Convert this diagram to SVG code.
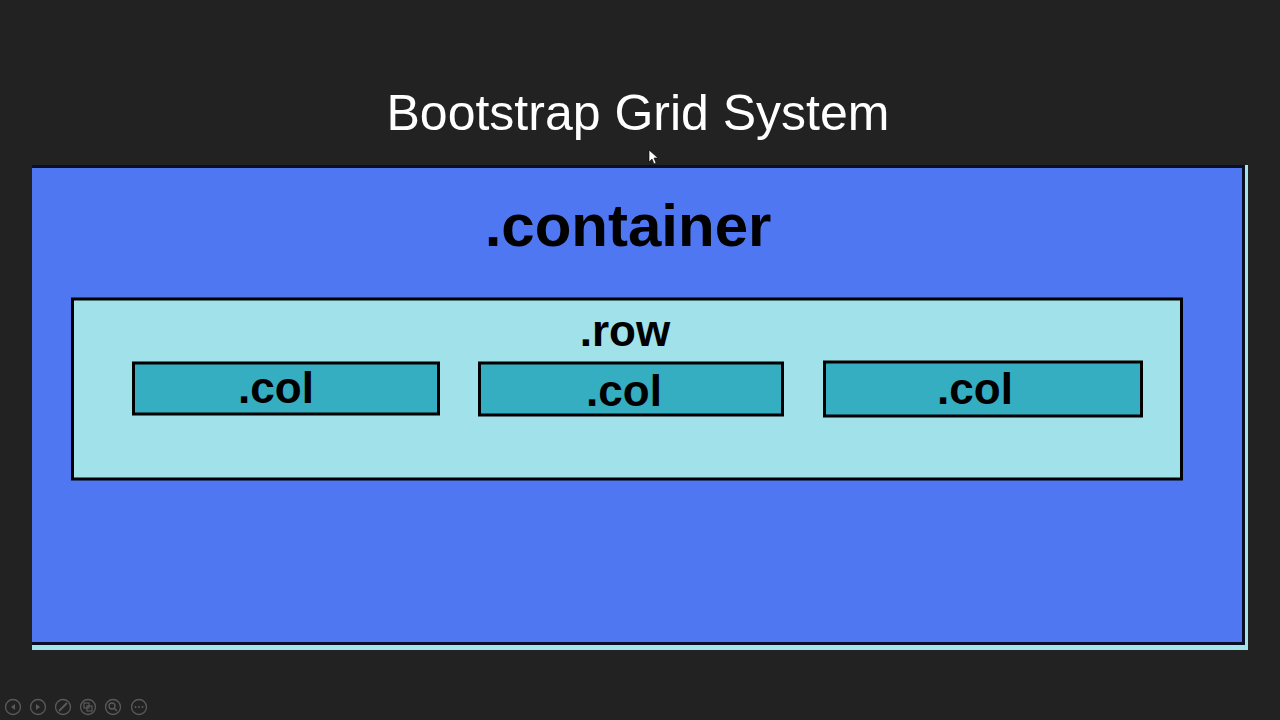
<svg xmlns="http://www.w3.org/2000/svg" width="1280" height="720" viewBox="0 0 1280 720">
<style>
.title{font-family:"Liberation Sans",Arial,sans-serif;font-size:50px;fill:#ffffff}
.lbl{font-family:"Liberation Sans",Arial,sans-serif;font-weight:bold;fill:#000000;text-anchor:middle}
.col rect{fill:#34aec0;stroke:#000;stroke-width:3}
.ic{fill:none;stroke:#5a5a5a;stroke-width:1.3}
</style>
<rect x="0" y="0" width="1280" height="720" fill="#222222"/>
<text class="title" x="638" y="130" text-anchor="middle">Bootstrap Grid System</text>
<g id="container">
  <rect x="1244" y="165" width="4" height="485" fill="#a4e3ea"/>
  <rect x="32" y="645" width="1216" height="5" fill="#a4e3ea"/>
  <rect x="32" y="165" width="1213" height="480" fill="#0a0f24"/>
  <rect x="32" y="168" width="1210" height="474" fill="#5077f2"/>
  <text class="lbl" x="628" y="246" font-size="60">.container</text>
</g>
<g id="row">
  <rect x="72.5" y="299" width="1109" height="180" fill="#a0e1ea" stroke="#000" stroke-width="3"/>
  <text class="lbl" x="625" y="346" font-size="44">.row</text>
</g>
<g id="col1" class="col">
  <rect x="133.5" y="363" width="305" height="51"/>
  <text class="lbl" x="276" y="403" font-size="44">.col</text>
</g>
<g id="col2" class="col">
  <rect x="479.5" y="363" width="303" height="52"/>
  <text class="lbl" x="624" y="406" font-size="44">.col</text>
</g>
<g id="col3" class="col">
  <rect x="824.5" y="362" width="317" height="54"/>
  <text class="lbl" x="975" y="404" font-size="44">.col</text>
</g>
<g id="cursor">
  <path d="M649,150 L649,162 L652,159 L654,164 L656,163 L654,158 L658,158 Z" fill="#ffffff" stroke="#000" stroke-width="0.6"/>
</g>
<g id="toolbar">
  <circle class="ic" cx="13" cy="707" r="7.5"/>
  <path d="M15,704 L11,707 L15,710 Z" fill="#5a5a5a"/>
  <circle class="ic" cx="38" cy="707" r="7.5"/>
  <path d="M36,704 L40,707 L36,710 Z" fill="#5a5a5a"/>
  <circle class="ic" cx="63" cy="707" r="7.5"/>
  <path d="M59,711 L67,703" stroke="#5a5a5a" stroke-width="2"/>
  <circle class="ic" cx="88" cy="707" r="7.5"/>
  <rect x="84" y="703" width="5" height="5" fill="none" stroke="#5a5a5a" stroke-width="1.2"/>
  <rect x="87" y="706" width="5" height="5" fill="none" stroke="#5a5a5a" stroke-width="1.2"/>
  <circle class="ic" cx="113" cy="707" r="7.5"/>
  <circle cx="112" cy="706" r="3" fill="none" stroke="#5a5a5a" stroke-width="1.3"/>
  <path d="M114,708 L117,711" stroke="#5a5a5a" stroke-width="1.5"/>
  <circle class="ic" cx="139" cy="707" r="7.5"/>
  <circle cx="135.5" cy="707" r="1" fill="#5a5a5a"/>
  <circle cx="139" cy="707" r="1" fill="#5a5a5a"/>
  <circle cx="142.5" cy="707" r="1" fill="#5a5a5a"/>
</g>
</svg>
